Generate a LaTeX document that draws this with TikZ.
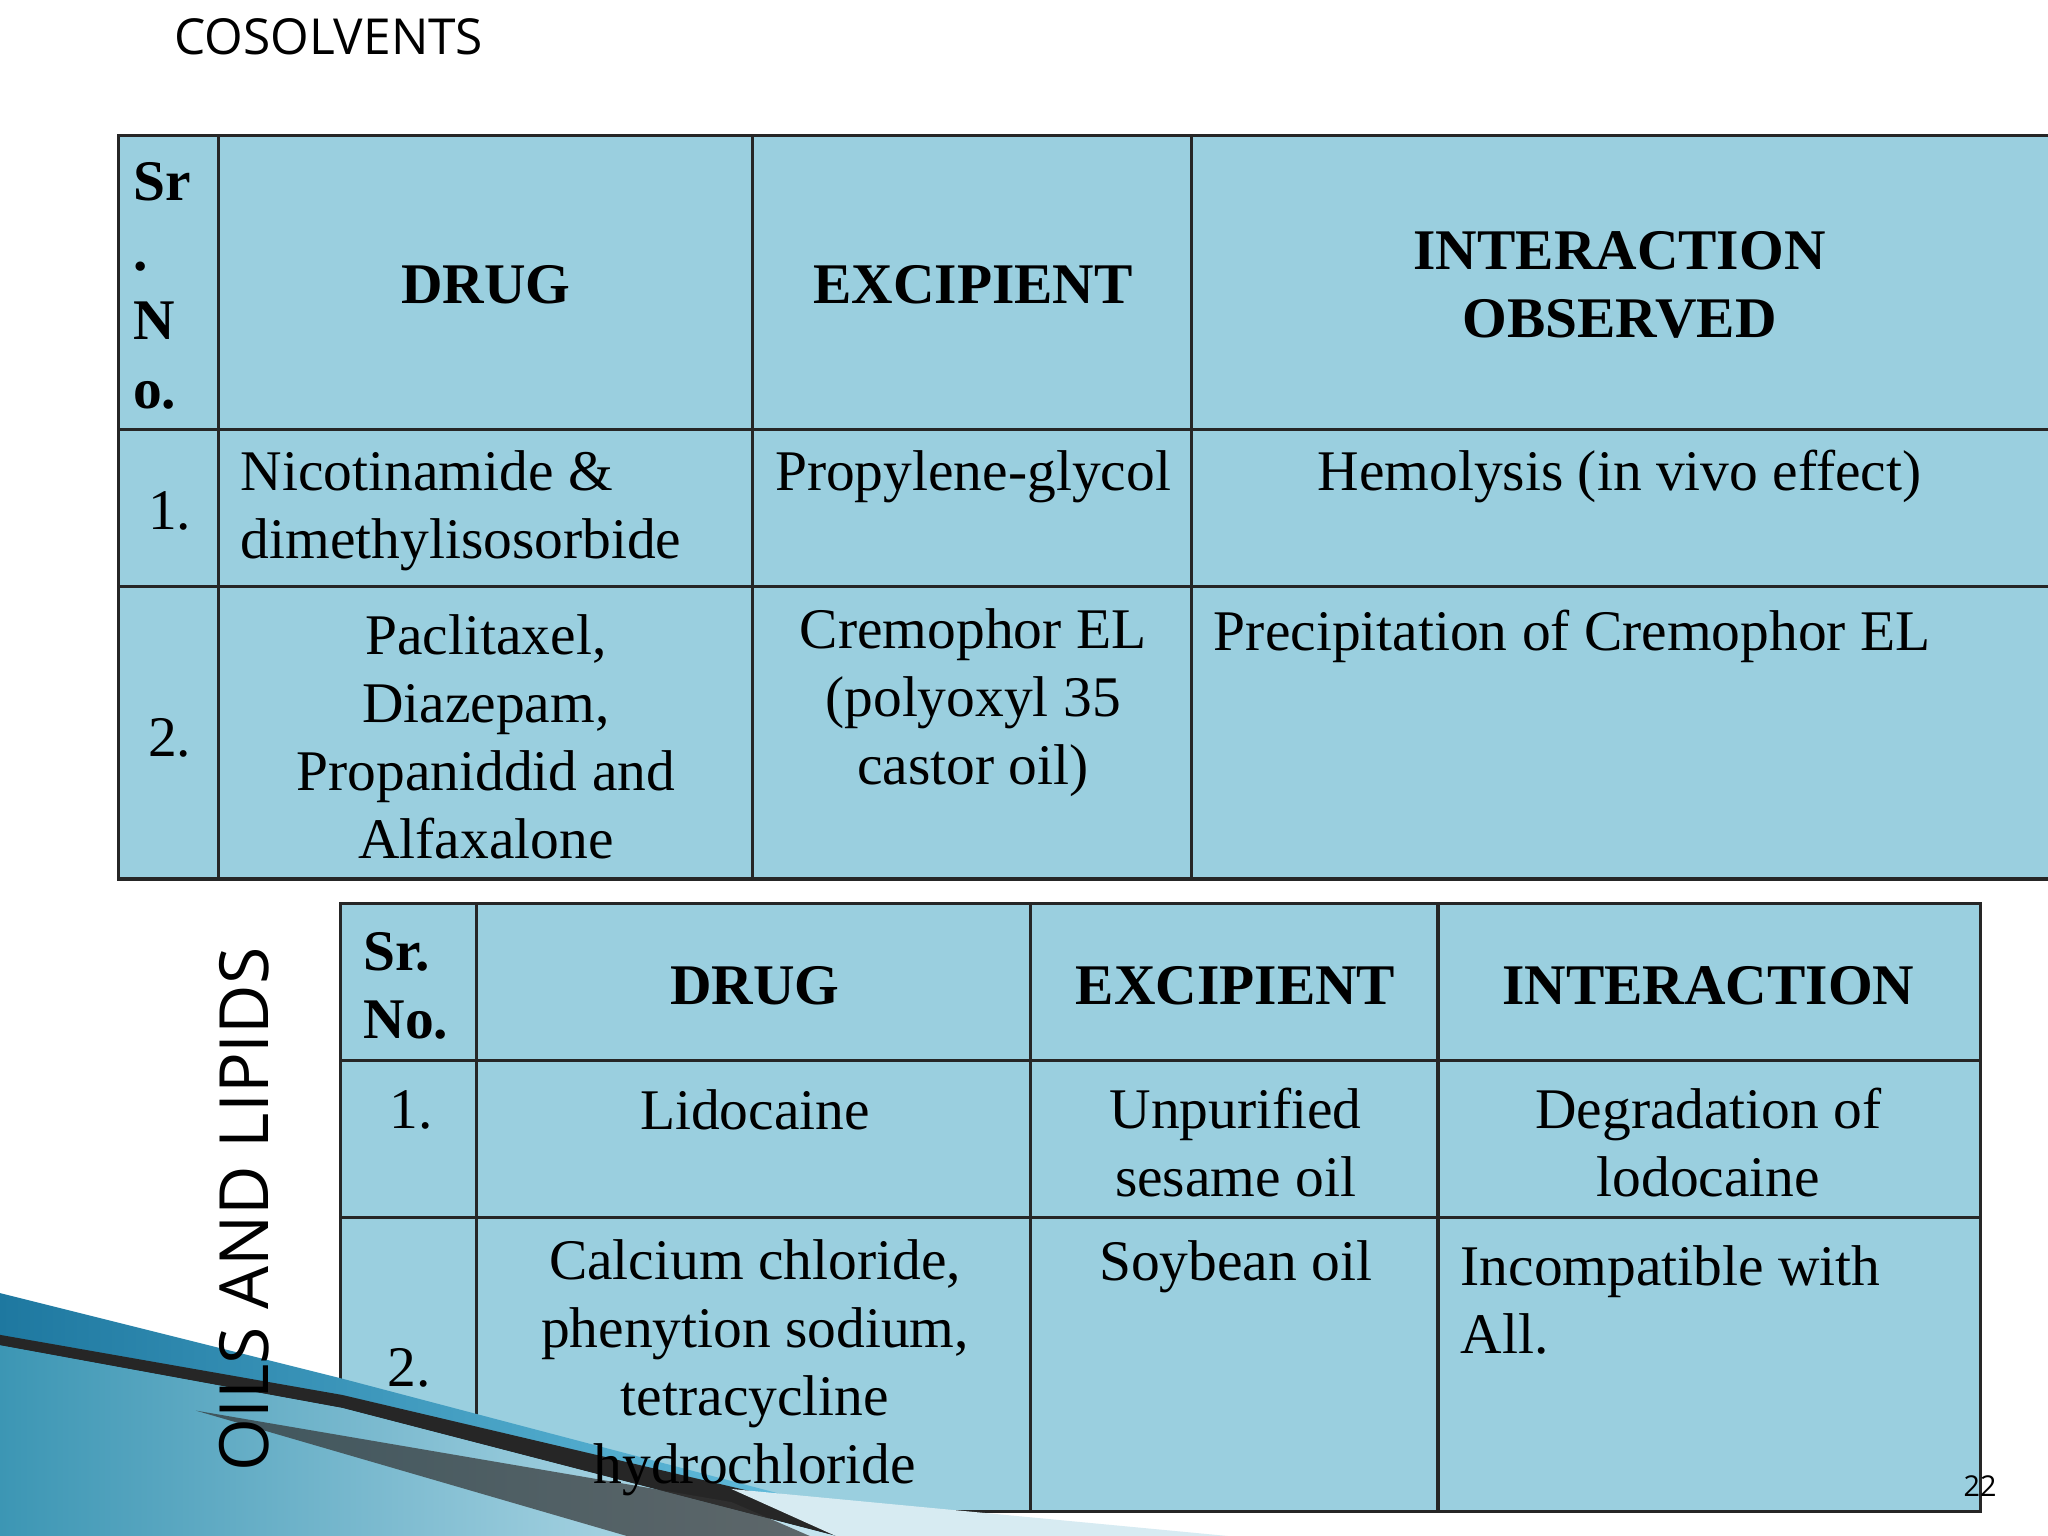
\documentclass[tikz,border=0pt]{standalone}
\usepackage{fontspec}
\setmainfont{Liberation Serif}
\newfontfamily\osans{Open Sans}
\definecolor{cellblue}{HTML}{9ACFDF}
\definecolor{swA}{RGB}{30,120,160}
\definecolor{swB}{RGB}{110,200,230}
\definecolor{swC}{RGB}{60,150,180}
\definecolor{swD}{RGB}{200,230,240}
\definecolor{swE}{RGB}{215,235,242}
\begin{document}
\begin{tikzpicture}[x=0.5pt,y=-0.5pt,
  tc/.style={font=\fontsize{22}{26}\selectfont,align=center,inner sep=0},
  tl/.style={font=\fontsize{22}{26}\selectfont,align=left,inner sep=0},
  th/.style={font=\bfseries\fontsize{22}{26}\selectfont,align=center,inner sep=0},
  grid/.style={draw=black!85,line width=1.2pt}]
\useasboundingbox (0,0) rectangle (1568,1176);
\fill[white] (0,0) rectangle (1568,1176);
% table 1
\fill[cellblue] (91,104) rectangle (1568,673);
\draw[grid] (1568,104) -- (91,104) -- (91,673) -- (1568,673);
\foreach \x in {167,576,912} \draw[grid] (\x,104) -- (\x,673);
\foreach \y in {329,449} \draw[grid] (91,\y) -- (1568,\y);
% table 2
\fill[cellblue] (261,692) rectangle (1516,1157);
\draw[grid] (261,692) rectangle (1516,1157);
\foreach \x in {365,789,1101} \draw[grid] (\x,692) -- (\x,1157);
\foreach \y in {812,932} \draw[grid] (261,\y) -- (1516,\y);
% swoosh
\shade[left color=swA,right color=swB]
  (0,990) -- (260,1055) -- (720,1176) -- (0,1176) -- cycle;
\fill[black!85] (0,1022) -- (262,1068) -- (720,1176) -- (640,1176) -- (262,1078) -- (0,1030) -- cycle;
\shade[left color=swC,right color=swD]
  (0,1030) -- (262,1078) -- (640,1176) -- (0,1176) -- cycle;
\fill[black!80,opacity=0.7] (150,1080) -- (560,1150) -- (620,1176) -- (480,1176) -- cycle;
\fill[swE] (640,1176) -- (560,1140) -- (940,1176) -- cycle;
% titles
\node[font=\osans\fontsize{19}{22}\selectfont,anchor=west,inner sep=0] (title) at (133,28) {COSOLVENTS};
\node[font=\osans\fontsize{26}{30}\selectfont,rotate=90,inner sep=0] (side) at (187,926) {OILS AND LIPIDS};
\node[font=\osans\fontsize{11}{13}\selectfont,inner sep=0] (pg) at (1516,1138) {22};
% table 1 text
\node[th,align=left,font=\bfseries\fontsize{22}{26.5}\selectfont] (a0) at (124,219) {Sr\\.\\N\\o.};
\node[th] (a1) at (372,218) {DRUG};
\node[th] (a2) at (745,218) {EXCIPIENT};
\node[th] (a3) at (1240,218) {INTERACTION\\OBSERVED};
\node[tc] (b0) at (130,391) {1.};
\node[tl,anchor=west] (b1) at (184,391) {Nicotinamide \&\\dimethylisosorbide};
\node[tc] (b2) at (745,365) {Propylene-glycol};
\node[tc] (b3) at (1240,365) {Hemolysis (in vivo effect)};
\node[tc] (c0) at (130,565) {2.};
\node[tc] (c1) at (372,564) {Paclitaxel,\\Diazepam,\\Propaniddid and\\Alfaxalone};
\node[tc] (c2) at (745,538) {Cremophor EL\\(polyoxyl 35\\castor oil)};
\node[tl,anchor=west] (c3) at (929,487) {Precipitation of Cremophor EL};
% table 2 text
\node[th,align=left,anchor=west] (d0) at (278,755) {Sr.\\No.};
\node[th] (d1) at (578,755) {DRUG};
\node[th] (d2) at (946,755) {EXCIPIENT};
\node[th] (d3) at (1308,755) {INTERACTION};
\node[tc] (e0) at (315,850) {1.};
\node[tc] (e1) at (578,850) {Lidocaine};
\node[tc] (e2) at (946,875) {Unpurified\\sesame oil};
\node[tc] (e3) at (1308,875) {Degradation of\\lodocaine};
\node[tc] (f0) at (313,1047) {2.};
\node[tc] (f1) at (578,1047) {Calcium chloride,\\phenytion sodium,\\tetracycline\\hydrochloride};
\node[tc] (f2) at (946,970) {Soybean oil};
\node[tl,anchor=west] (f3) at (1118,995) {Incompatible with\\All.};
\end{tikzpicture}
\end{document}
